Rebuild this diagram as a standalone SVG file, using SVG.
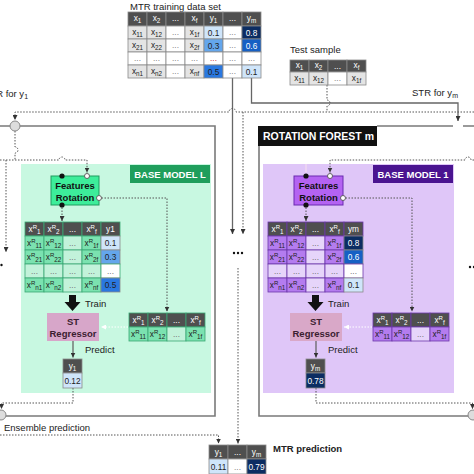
<svg xmlns="http://www.w3.org/2000/svg" width="474" height="474" viewBox="0 0 474 474">
<style>
text{font-family:"Liberation Sans",Arial,sans-serif}
.t{font-size:8.3px;text-anchor:middle;fill:#222}
.tw{font-size:8.3px;text-anchor:middle;fill:#fff}
.sb{font-size:6.3px}
.sp{font-size:6px}
.lbl{font-size:9.5px;fill:#222}
.bold{font-weight:bold}
.h{fill:#4f4f4f;stroke:#8a8a8a;stroke-width:.8}
.g{fill:#e4e4e4;stroke:#8a8a8a;stroke-width:.8}
.w{fill:#fff;stroke:#8a8a8a;stroke-width:.8}
.gm{fill:#7be2b0;stroke:#3aa874;stroke-width:.8}
.gl{fill:#c2f2da;stroke:#3aa874;stroke-width:.8}
.gw{fill:#fff;stroke:#3aa874;stroke-width:.8}
.gh{fill:#4f4f4f;stroke:#3aa874;stroke-width:.8}
.pm{fill:#b47cef;stroke:#6c37aa;stroke-width:.8}
.pl{fill:#e6d5fa;stroke:#6c37aa;stroke-width:.8}
.pw{fill:#fff;stroke:#6c37aa;stroke-width:.8}
.ph{fill:#4f4f4f;stroke:#6c37aa;stroke-width:.8}
.b1{fill:#cfe5fa;stroke:#8a8a8a;stroke-width:.8}
.b2{fill:#64a6ec;stroke:#8a8a8a;stroke-width:.8}
.b3{fill:#2a78e0;stroke:#8a8a8a;stroke-width:.8}
.b4{fill:#1660c4;stroke:#8a8a8a;stroke-width:.8}
.b5{fill:#0c2d62;stroke:#8a8a8a;stroke-width:.8}
.sol{fill:none;stroke:#666;stroke-width:1.3}
.dot{fill:none;stroke:#555;stroke-width:1;stroke-dasharray:1.5 1.5}
.wdot{fill:none;stroke:#fff;stroke-width:1;stroke-dasharray:1.5 1.5}
.frame{fill:none;stroke:#7a7a7a;stroke-width:1.6}
.jn{fill:#ddd;stroke:#888;stroke-width:1}
.bd{fill:#111}
.od{fill:#fff;stroke:#555;stroke-width:.9}
.dd{fill:#888}
</style>
<defs>
<marker id="ah" viewBox="0 0 6 6" refX="6" refY="3" markerWidth="5" markerHeight="5" orient="auto" markerUnits="userSpaceOnUse"><path d="M0,0 L6,3 L0,6 z" fill="#333"/></marker>
<marker id="awh" viewBox="0 0 6 6" refX="6" refY="3" markerWidth="5" markerHeight="5" orient="auto" markerUnits="userSpaceOnUse"><path d="M0,0 L6,3 L0,6 z" fill="#fff"/></marker>
</defs>
<rect width="474" height="474" fill="#fff"/>

<!-- forest frames -->
<g id="forest-1">
<path class="frame" d="M0,126 H215 V416 H0"/>
<rect x="21" y="164" width="190" height="229" fill="#c8f8e1"/>
<rect x="130" y="165" width="80" height="18" fill="#1f9e5c"/>
<text x="170" y="177.5" class="bold" font-size="9.5" fill="#fff" text-anchor="middle">BASE MODEL L</text>
</g>
<g id="forest-m">
<path class="frame" d="M474,126 H463 M453,126 H377 M259,146 V416 H474"/>
<rect x="258" y="126" width="119" height="20" fill="#111"/>
<text x="263" y="140" class="bold" font-size="10.5" fill="#fff">ROTATION FOREST m</text>
<rect x="263" y="164" width="191" height="229" fill="#dfc6f8"/>
<rect x="373" y="165" width="80" height="18" fill="#4a1490"/>
<text x="413" y="177.5" class="bold" font-size="9.5" fill="#fff" text-anchor="middle">BASE MODEL 1</text>
</g>

<!-- connectors -->
<g id="connectors">
<path class="sol" d="M232.5,78 V234" marker-end="url(#ah)"/>
<path class="sol" d="M251.5,78 V103 H458 V121" marker-end="url(#ah)"/>
<path class="sol" d="M73,341 V357.5" marker-end="url(#ah)"/>
<path class="sol" d="M316,341 V357.5" marker-end="url(#ah)"/>
<path class="dot" d="M474,112 H236 a3.5,3.5 0 0 0 -7,0 H15 V120" marker-end="url(#ah)"/>
<path class="dot" d="M243,112 V234" marker-end="url(#ah)"/>
<path class="dot" d="M327,85 V100 a3,3 0 0 1 0,6 V112"/>
<path class="dot" d="M15,131 V147 a3,3 0 0 1 0,6 V160"/>
<path class="dot" d="M0,160 H59 a3,3 0 0 1 6,0 H87 V172.5" marker-end="url(#ah)"/>
<path class="dot" d="M6,160 V252" marker-end="url(#ah)"/>
<path class="dot" d="M474,160 H471 a3,3 0 0 0 -6,0 H330 V172.5" marker-end="url(#ah)"/>
<path class="dot" d="M101.5,198 H167 V311.5" marker-end="url(#ah)"/>
<path class="dot" d="M62,207.5 V221" marker-end="url(#ah)"/>
<path class="dot" d="M345.5,198 H412 V311.5" marker-end="url(#ah)"/>
<path class="dot" d="M306,207.5 V221" marker-end="url(#ah)"/>
<path class="dot" d="M73,388 V403 H1.5 V409" marker-end="url(#ah)"/>
<path class="dot" d="M316,388 V403 H472.5 V409" marker-end="url(#ah)"/>
<path class="dot" d="M0,435 H218.5 V443.5" marker-end="url(#ah)"/>
<path class="dot" d="M238,268 V443.5" marker-end="url(#ah)"/>
<path class="wdot" d="M372,327 H344" marker-end="url(#awh)"/>
<path class="wdot" d="M128,327 H101" marker-end="url(#awh)"/>
<path d="M306,164 V172.5" stroke="#f3dcef" stroke-width="1.2" fill="none"/>
<circle class="jn" cx="15" cy="126" r="5"/>
<circle class="jn" cx="1" cy="415" r="5"/>
<circle class="jn" cx="473" cy="415" r="5"/>
<circle class="bd" cx="234" cy="253" r="1.2"/><circle class="bd" cx="238" cy="253" r="1.2"/><circle class="bd" cx="242" cy="253" r="1.2"/>
<circle class="bd" cx="1.5" cy="265" r="1.2"/>
<circle class="bd" cx="470" cy="267" r="1.2"/><circle class="bd" cx="474" cy="267" r="1.2"/>
</g>

<!-- labels -->
<text x="-16" y="97" class="lbl">STR for y<tspan font-size="7" dy="2">1</tspan></text>
<text x="412" y="96" class="lbl">STR for y<tspan font-size="7" dy="2">m</tspan></text>
<text x="130" y="10" class="lbl">MTR training data set</text>
<text x="290" y="53" class="lbl">Test sample</text>
<text x="4" y="431" class="lbl">Ensemble prediction</text>
<text x="273" y="452" class="lbl bold">MTR prediction</text>

<!-- MTR training table -->
<g id="mtr-training" transform="translate(128,12)">
<rect class="h" x="0" y="0" width="19" height="14"/><rect class="h" x="19" y="0" width="19" height="14"/><rect class="h" x="38" y="0" width="19" height="14"/><rect class="h" x="57" y="0" width="19" height="14"/><rect class="h" x="76" y="0" width="19" height="14"/><rect class="h" x="95" y="0" width="19" height="14"/><rect class="h" x="114" y="0" width="19" height="14"/>
<rect class="g" x="0" y="14" width="19" height="13"/><rect class="g" x="19" y="14" width="19" height="13"/><rect class="w" x="38" y="14" width="19" height="13"/><rect class="g" x="57" y="14" width="19" height="13"/><rect class="b1" x="76" y="14" width="19" height="13"/><rect class="w" x="95" y="14" width="19" height="13"/><rect class="b5" x="114" y="14" width="19" height="13"/>
<rect class="g" x="0" y="27" width="19" height="13"/><rect class="g" x="19" y="27" width="19" height="13"/><rect class="w" x="38" y="27" width="19" height="13"/><rect class="g" x="57" y="27" width="19" height="13"/><rect class="b2" x="76" y="27" width="19" height="13"/><rect class="w" x="95" y="27" width="19" height="13"/><rect class="b4" x="114" y="27" width="19" height="13"/>
<rect class="w" x="0" y="40" width="19" height="13"/><rect class="w" x="19" y="40" width="19" height="13"/><rect class="w" x="38" y="40" width="19" height="13"/><rect class="w" x="57" y="40" width="19" height="13"/><rect class="w" x="76" y="40" width="19" height="13"/><rect class="w" x="95" y="40" width="19" height="13"/><rect class="w" x="114" y="40" width="19" height="13"/>
<rect class="g" x="0" y="53" width="19" height="13"/><rect class="g" x="19" y="53" width="19" height="13"/><rect class="w" x="38" y="53" width="19" height="13"/><rect class="g" x="57" y="53" width="19" height="13"/><rect class="b3" x="76" y="53" width="19" height="13"/><rect class="w" x="95" y="53" width="19" height="13"/><rect class="b1" x="114" y="53" width="19" height="13"/>
<text class="tw" x="9.5" y="9">x<tspan class="sb" dy="2">1</tspan></text><text class="tw" x="28.5" y="9">x<tspan class="sb" dy="2">2</tspan></text><text class="tw" x="47.5" y="9">...</text><text class="tw" x="66.5" y="9">x<tspan class="sb" dy="2">f</tspan></text><text class="tw" x="85.5" y="9">y<tspan class="sb" dy="2">1</tspan></text><text class="tw" x="104.5" y="9">...</text><text class="tw" x="123.5" y="9">y<tspan class="sb" dy="2">m</tspan></text>
<text class="t" x="9.5" y="22.5">x<tspan class="sb" dy="2">11</tspan></text><text class="t" x="28.5" y="22.5">x<tspan class="sb" dy="2">12</tspan></text><text class="t" x="47.5" y="23" style="fill:#888">...</text><text class="t" x="66.5" y="22.5">x<tspan class="sb" dy="2">1f</tspan></text><text class="t" x="85.5" y="23.5">0.1</text><text class="t" x="104.5" y="23" style="fill:#888">...</text><text class="tw" x="123.5" y="23.5">0.8</text>
<text class="t" x="9.5" y="35.5">x<tspan class="sb" dy="2">21</tspan></text><text class="t" x="28.5" y="35.5">x<tspan class="sb" dy="2">22</tspan></text><text class="t" x="47.5" y="36" style="fill:#888">...</text><text class="t" x="66.5" y="35.5">x<tspan class="sb" dy="2">2f</tspan></text><text class="t" x="85.5" y="36.5">0.3</text><text class="t" x="104.5" y="36" style="fill:#888">...</text><text class="tw" x="123.5" y="36.5">0.6</text>
<text class="t" x="9.5" y="49" style="fill:#888">...</text><text class="t" x="28.5" y="49" style="fill:#888">...</text><text class="t" x="47.5" y="49" style="fill:#888">...</text><text class="t" x="66.5" y="49" style="fill:#888">...</text><text class="t" x="85.5" y="49" style="fill:#d04040">...</text><text class="t" x="104.5" y="49" style="fill:#888">...</text><text class="t" x="123.5" y="49" style="fill:#888">...</text>
<text class="t" x="9.5" y="61.5">x<tspan class="sb" dy="2">n1</tspan></text><text class="t" x="28.5" y="61.5">x<tspan class="sb" dy="2">n2</tspan></text><text class="t" x="47.5" y="62" style="fill:#888">...</text><text class="t" x="66.5" y="61.5">x<tspan class="sb" dy="2">nf</tspan></text><text class="t" x="85.5" y="62.5">0.5</text><text class="t" x="104.5" y="62" style="fill:#888">...</text><text class="t" x="123.5" y="62.5">0.1</text>
</g>

<!-- Test sample -->
<g id="test-sample" transform="translate(290,60)">
<rect class="h" x="0" y="0" width="19" height="12"/><rect class="h" x="19" y="0" width="19" height="12"/><rect class="h" x="38" y="0" width="19" height="12"/><rect class="h" x="57" y="0" width="19" height="12"/>
<rect class="g" x="0" y="12" width="19" height="13"/><rect class="g" x="19" y="12" width="19" height="13"/><rect class="w" x="38" y="12" width="19" height="13"/><rect class="g" x="57" y="12" width="19" height="13"/>
<text class="tw" x="9.5" y="8">x<tspan class="sb" dy="2">1</tspan></text><text class="tw" x="28.5" y="8">x<tspan class="sb" dy="2">2</tspan></text><text class="tw" x="47.5" y="8.5">...</text><text class="tw" x="66.5" y="8">x<tspan class="sb" dy="2">f</tspan></text>
<text class="t" x="9.5" y="20.5">x<tspan class="sb" dy="2">11</tspan></text><text class="t" x="28.5" y="20.5">x<tspan class="sb" dy="2">12</tspan></text><text class="t" x="47.5" y="21" style="fill:#888">...</text><text class="t" x="66.5" y="20.5">x<tspan class="sb" dy="2">1f</tspan></text>
</g>

<!-- Base model L nodes -->
<g id="features-rotation-L">
<rect x="51" y="176" width="48" height="29" fill="#3ded9a" stroke="#1f9b5f" stroke-width="1"/>
<text x="75" y="188.5" class="bold" font-size="9.5" text-anchor="middle" fill="#111">Features</text>
<text x="75" y="200.5" class="bold" font-size="9.5" text-anchor="middle" fill="#111">Rotation</text>
<circle class="bd" cx="62" cy="176" r="2.6"/><circle class="bd" cx="62" cy="205" r="2.6"/>
<circle class="od" cx="87" cy="176" r="2.5"/><circle class="od" cx="99" cy="198" r="2.5"/>
</g>
<g id="rotated-train-L" transform="translate(25,222)">
<rect class="gh" x="0" y="0" width="19" height="14"/><rect class="gh" x="19" y="0" width="19" height="14"/><rect class="gh" x="38" y="0" width="19" height="14"/><rect class="gh" x="57" y="0" width="19" height="14"/><rect class="gh" x="76" y="0" width="19" height="14"/>
<rect class="gm" x="0" y="14" width="19" height="14"/><rect class="gm" x="19" y="14" width="19" height="14"/><rect class="gl" x="38" y="14" width="19" height="14"/><rect class="gm" x="57" y="14" width="19" height="14"/><rect class="b1" x="76" y="14" width="19" height="14"/>
<rect class="gm" x="0" y="28" width="19" height="14"/><rect class="gm" x="19" y="28" width="19" height="14"/><rect class="gl" x="38" y="28" width="19" height="14"/><rect class="gm" x="57" y="28" width="19" height="14"/><rect class="b2" x="76" y="28" width="19" height="14"/>
<rect class="gl" x="0" y="42" width="19" height="14"/><rect class="gl" x="19" y="42" width="19" height="14"/><rect class="gl" x="38" y="42" width="19" height="14"/><rect class="gl" x="57" y="42" width="19" height="14"/><rect class="gw" x="76" y="42" width="19" height="14"/>
<rect class="gm" x="0" y="56" width="19" height="14"/><rect class="gm" x="19" y="56" width="19" height="14"/><rect class="gl" x="38" y="56" width="19" height="14"/><rect class="gm" x="57" y="56" width="19" height="14"/><rect class="b3" x="76" y="56" width="19" height="14"/>
<text class="tw" x="9.5" y="10">x<tspan class="sp" dy="-3">R</tspan><tspan class="sb" dy="5">1</tspan></text><text class="tw" x="28.5" y="10">x<tspan class="sp" dy="-3">R</tspan><tspan class="sb" dy="5">2</tspan></text><text class="tw" x="47.5" y="10">...</text><text class="tw" x="66.5" y="10">x<tspan class="sp" dy="-3">R</tspan><tspan class="sb" dy="5">f</tspan></text><text class="tw" x="85.5" y="10">y1</text>
<text class="t" x="9.5" y="23.5">x<tspan class="sp" dy="-3">R</tspan><tspan class="sb" dy="5">11</tspan></text><text class="t" x="28.5" y="23.5">x<tspan class="sp" dy="-3">R</tspan><tspan class="sb" dy="5">12</tspan></text><text class="t" x="47.5" y="24" style="fill:#777">...</text><text class="t" x="66.5" y="23.5">x<tspan class="sp" dy="-3">R</tspan><tspan class="sb" dy="5">1f</tspan></text><text class="t" x="85.5" y="24">0.1</text>
<text class="t" x="9.5" y="37.5">x<tspan class="sp" dy="-3">R</tspan><tspan class="sb" dy="5">21</tspan></text><text class="t" x="28.5" y="37.5">x<tspan class="sp" dy="-3">R</tspan><tspan class="sb" dy="5">22</tspan></text><text class="t" x="47.5" y="38" style="fill:#777">...</text><text class="t" x="66.5" y="37.5">x<tspan class="sp" dy="-3">R</tspan><tspan class="sb" dy="5">2f</tspan></text><text class="t" x="85.5" y="38">0.3</text>
<text class="t" x="9.5" y="52" style="fill:#777">...</text><text class="t" x="28.5" y="52" style="fill:#777">...</text><text class="t" x="47.5" y="52" style="fill:#777">...</text><text class="t" x="66.5" y="52" style="fill:#777">...</text><text class="t" x="85.5" y="52" style="fill:#777">...</text>
<text class="t" x="9.5" y="65.5">x<tspan class="sp" dy="-3">R</tspan><tspan class="sb" dy="5">n1</tspan></text><text class="t" x="28.5" y="65.5">x<tspan class="sp" dy="-3">R</tspan><tspan class="sb" dy="5">n2</tspan></text><text class="t" x="47.5" y="66" style="fill:#777">...</text><text class="t" x="66.5" y="65.5">x<tspan class="sp" dy="-3">R</tspan><tspan class="sb" dy="5">nf</tspan></text><text class="t" x="85.5" y="66">0.5</text>
</g>
<g id="train-L">
<polygon points="69,295 76,295 76,302 80.5,302 72.5,311 64.5,302 69,302" fill="#111"/>
<text x="85" y="307" class="lbl">Train</text>
</g>
<g id="st-regressor-L">
<rect x="47" y="313" width="52" height="28" fill="#d7a6c9"/>
<text x="73" y="324.5" class="bold" font-size="9.5" text-anchor="middle" fill="#3b2030">ST</text>
<text x="73" y="336.5" class="bold" font-size="9.5" text-anchor="middle" fill="#3b2030">Regressor</text>
<text x="85" y="353" class="lbl">Predict</text>
</g>
<g id="rotated-test-L" transform="translate(129,313)">
<rect class="gh" x="0" y="0" width="19" height="14"/><rect class="gh" x="19" y="0" width="19" height="14"/><rect class="gh" x="38" y="0" width="19" height="14"/><rect class="gh" x="57" y="0" width="19" height="14"/>
<rect class="gm" x="0" y="14" width="19" height="14"/><rect class="gm" x="19" y="14" width="19" height="14"/><rect class="gl" x="38" y="14" width="19" height="14"/><rect class="gm" x="57" y="14" width="19" height="14"/>
<text class="tw" x="9.5" y="10">x<tspan class="sp" dy="-3">R</tspan><tspan class="sb" dy="5">1</tspan></text><text class="tw" x="28.5" y="10">x<tspan class="sp" dy="-3">R</tspan><tspan class="sb" dy="5">2</tspan></text><text class="tw" x="47.5" y="10">...</text><text class="tw" x="66.5" y="10">x<tspan class="sp" dy="-3">R</tspan><tspan class="sb" dy="5">f</tspan></text>
<text class="t" x="9.5" y="23.5">x<tspan class="sp" dy="-3">R</tspan><tspan class="sb" dy="5">11</tspan></text><text class="t" x="28.5" y="23.5">x<tspan class="sp" dy="-3">R</tspan><tspan class="sb" dy="5">12</tspan></text><text class="t" x="47.5" y="24" style="fill:#777">...</text><text class="t" x="66.5" y="23.5">x<tspan class="sp" dy="-3">R</tspan><tspan class="sb" dy="5">1f</tspan></text>
</g>
<g id="output-L" transform="translate(63,359)">
<rect class="h" x="0" y="0" width="19" height="14"/><rect class="b1" x="0" y="14" width="19" height="15"/>
<text class="tw" x="9.5" y="10">y<tspan class="sb" dy="1.5">1</tspan></text>
<text class="t" x="9.5" y="24.5">0.12</text>
</g>

<!-- Base model 1 nodes (forest m) -->
<g id="features-rotation-m">
<rect x="294" y="176" width="49" height="29" fill="#b463f2" stroke="#6a2ab0" stroke-width="1"/>
<text x="318.5" y="188.5" class="bold" font-size="9.5" text-anchor="middle" fill="#111">Features</text>
<text x="318.5" y="200.5" class="bold" font-size="9.5" text-anchor="middle" fill="#111">Rotation</text>
<circle class="bd" cx="306" cy="176" r="2.6"/><circle class="bd" cx="306" cy="205" r="2.6"/>
<circle class="od" cx="330" cy="176" r="2.5"/><circle class="od" cx="343" cy="198" r="2.5"/>
</g>
<g id="rotated-train-m" transform="translate(268,222)">
<rect class="ph" x="0" y="0" width="19" height="14"/><rect class="ph" x="19" y="0" width="19" height="14"/><rect class="ph" x="38" y="0" width="19" height="14"/><rect class="ph" x="57" y="0" width="19" height="14"/><rect class="ph" x="76" y="0" width="19" height="14"/>
<rect class="pm" x="0" y="14" width="19" height="14"/><rect class="pm" x="19" y="14" width="19" height="14"/><rect class="pl" x="38" y="14" width="19" height="14"/><rect class="pm" x="57" y="14" width="19" height="14"/><rect class="b5" x="76" y="14" width="19" height="14"/>
<rect class="pm" x="0" y="28" width="19" height="14"/><rect class="pm" x="19" y="28" width="19" height="14"/><rect class="pl" x="38" y="28" width="19" height="14"/><rect class="pm" x="57" y="28" width="19" height="14"/><rect class="b4" x="76" y="28" width="19" height="14"/>
<rect class="pl" x="0" y="42" width="19" height="14"/><rect class="pl" x="19" y="42" width="19" height="14"/><rect class="pl" x="38" y="42" width="19" height="14"/><rect class="pl" x="57" y="42" width="19" height="14"/><rect class="pw" x="76" y="42" width="19" height="14"/>
<rect class="pm" x="0" y="56" width="19" height="14"/><rect class="pm" x="19" y="56" width="19" height="14"/><rect class="pl" x="38" y="56" width="19" height="14"/><rect class="pm" x="57" y="56" width="19" height="14"/><rect class="b1" x="76" y="56" width="19" height="14"/>
<text class="tw" x="9.5" y="10">x<tspan class="sp" dy="-3">R</tspan><tspan class="sb" dy="5">1</tspan></text><text class="tw" x="28.5" y="10">x<tspan class="sp" dy="-3">R</tspan><tspan class="sb" dy="5">2</tspan></text><text class="tw" x="47.5" y="10">...</text><text class="tw" x="66.5" y="10">x<tspan class="sp" dy="-3">R</tspan><tspan class="sb" dy="5">f</tspan></text><text class="tw" x="85.5" y="10">ym</text>
<text class="t" x="9.5" y="23.5">x<tspan class="sp" dy="-3">R</tspan><tspan class="sb" dy="5">11</tspan></text><text class="t" x="28.5" y="23.5">x<tspan class="sp" dy="-3">R</tspan><tspan class="sb" dy="5">12</tspan></text><text class="t" x="47.5" y="24" style="fill:#777">...</text><text class="t" x="66.5" y="23.5">x<tspan class="sp" dy="-3">R</tspan><tspan class="sb" dy="5">1f</tspan></text><text class="tw" x="85.5" y="24">0.8</text>
<text class="t" x="9.5" y="37.5">x<tspan class="sp" dy="-3">R</tspan><tspan class="sb" dy="5">21</tspan></text><text class="t" x="28.5" y="37.5">x<tspan class="sp" dy="-3">R</tspan><tspan class="sb" dy="5">22</tspan></text><text class="t" x="47.5" y="38" style="fill:#777">...</text><text class="t" x="66.5" y="37.5">x<tspan class="sp" dy="-3">R</tspan><tspan class="sb" dy="5">2f</tspan></text><text class="tw" x="85.5" y="38">0.6</text>
<text class="t" x="9.5" y="52" style="fill:#777">...</text><text class="t" x="28.5" y="52" style="fill:#777">...</text><text class="t" x="47.5" y="52" style="fill:#777">...</text><text class="t" x="66.5" y="52" style="fill:#777">...</text><text class="t" x="85.5" y="52" style="fill:#777">...</text>
<text class="t" x="9.5" y="65.5">x<tspan class="sp" dy="-3">R</tspan><tspan class="sb" dy="5">n1</tspan></text><text class="t" x="28.5" y="65.5">x<tspan class="sp" dy="-3">R</tspan><tspan class="sb" dy="5">n2</tspan></text><text class="t" x="47.5" y="66" style="fill:#777">...</text><text class="t" x="66.5" y="65.5">x<tspan class="sp" dy="-3">R</tspan><tspan class="sb" dy="5">nf</tspan></text><text class="t" x="85.5" y="66">0.1</text>
</g>
<g id="train-m">
<polygon points="312,295 319,295 319,302 323.5,302 315.5,311 307.5,302 312,302" fill="#111"/>
<text x="328" y="307" class="lbl">Train</text>
</g>
<g id="st-regressor-m">
<rect x="290" y="313" width="52" height="28" fill="#d9a8c8"/>
<text x="316" y="324.5" class="bold" font-size="9.5" text-anchor="middle" fill="#3b2030">ST</text>
<text x="316" y="336.5" class="bold" font-size="9.5" text-anchor="middle" fill="#3b2030">Regressor</text>
<text x="328" y="353" class="lbl">Predict</text>
</g>
<g id="rotated-test-m" transform="translate(373,313)">
<rect class="ph" x="0" y="0" width="19" height="14"/><rect class="ph" x="19" y="0" width="19" height="14"/><rect class="ph" x="38" y="0" width="19" height="14"/><rect class="ph" x="57" y="0" width="19" height="14"/>
<rect class="pm" x="0" y="14" width="19" height="14"/><rect class="pm" x="19" y="14" width="19" height="14"/><rect class="pl" x="38" y="14" width="19" height="14"/><rect class="pm" x="57" y="14" width="19" height="14"/>
<text class="tw" x="9.5" y="10">x<tspan class="sp" dy="-3">R</tspan><tspan class="sb" dy="5">1</tspan></text><text class="tw" x="28.5" y="10">x<tspan class="sp" dy="-3">R</tspan><tspan class="sb" dy="5">2</tspan></text><text class="tw" x="47.5" y="10">...</text><text class="tw" x="66.5" y="10">x<tspan class="sp" dy="-3">R</tspan><tspan class="sb" dy="5">f</tspan></text>
<text class="t" x="9.5" y="23.5">x<tspan class="sp" dy="-3">R</tspan><tspan class="sb" dy="5">11</tspan></text><text class="t" x="28.5" y="23.5">x<tspan class="sp" dy="-3">R</tspan><tspan class="sb" dy="5">12</tspan></text><text class="t" x="47.5" y="24" style="fill:#777">...</text><text class="t" x="66.5" y="23.5">x<tspan class="sp" dy="-3">R</tspan><tspan class="sb" dy="5">1f</tspan></text>
</g>
<g id="output-m" transform="translate(306,359)">
<rect class="h" x="0" y="0" width="19" height="14"/><rect class="b5" x="0" y="14" width="19" height="15"/>
<text class="tw" x="9.5" y="10">y<tspan class="sb" dy="1.5">m</tspan></text>
<text class="tw" x="9.5" y="24.5">0.78</text>
</g>

<!-- MTR prediction -->
<g id="mtr-prediction" transform="translate(209,445)">
<rect class="h" x="0" y="0" width="19" height="14"/><rect class="h" x="19" y="0" width="19" height="14"/><rect class="h" x="38" y="0" width="19" height="14"/>
<rect class="b1" x="0" y="14" width="19" height="15"/><rect class="w" x="19" y="14" width="19" height="15"/><rect class="b5" x="38" y="14" width="19" height="15"/>
<text class="tw" x="9.5" y="10">y<tspan class="sb" dy="1.5">1</tspan></text><text class="tw" x="28.5" y="10">...</text><text class="tw" x="47.5" y="10">y<tspan class="sb" dy="1.5">m</tspan></text>
<text class="t" x="9.5" y="24.5">0.11</text><text class="t" x="28.5" y="24.5" style="fill:#888">...</text><text class="tw" x="47.5" y="24.5">0.79</text>
</g>
</svg>
